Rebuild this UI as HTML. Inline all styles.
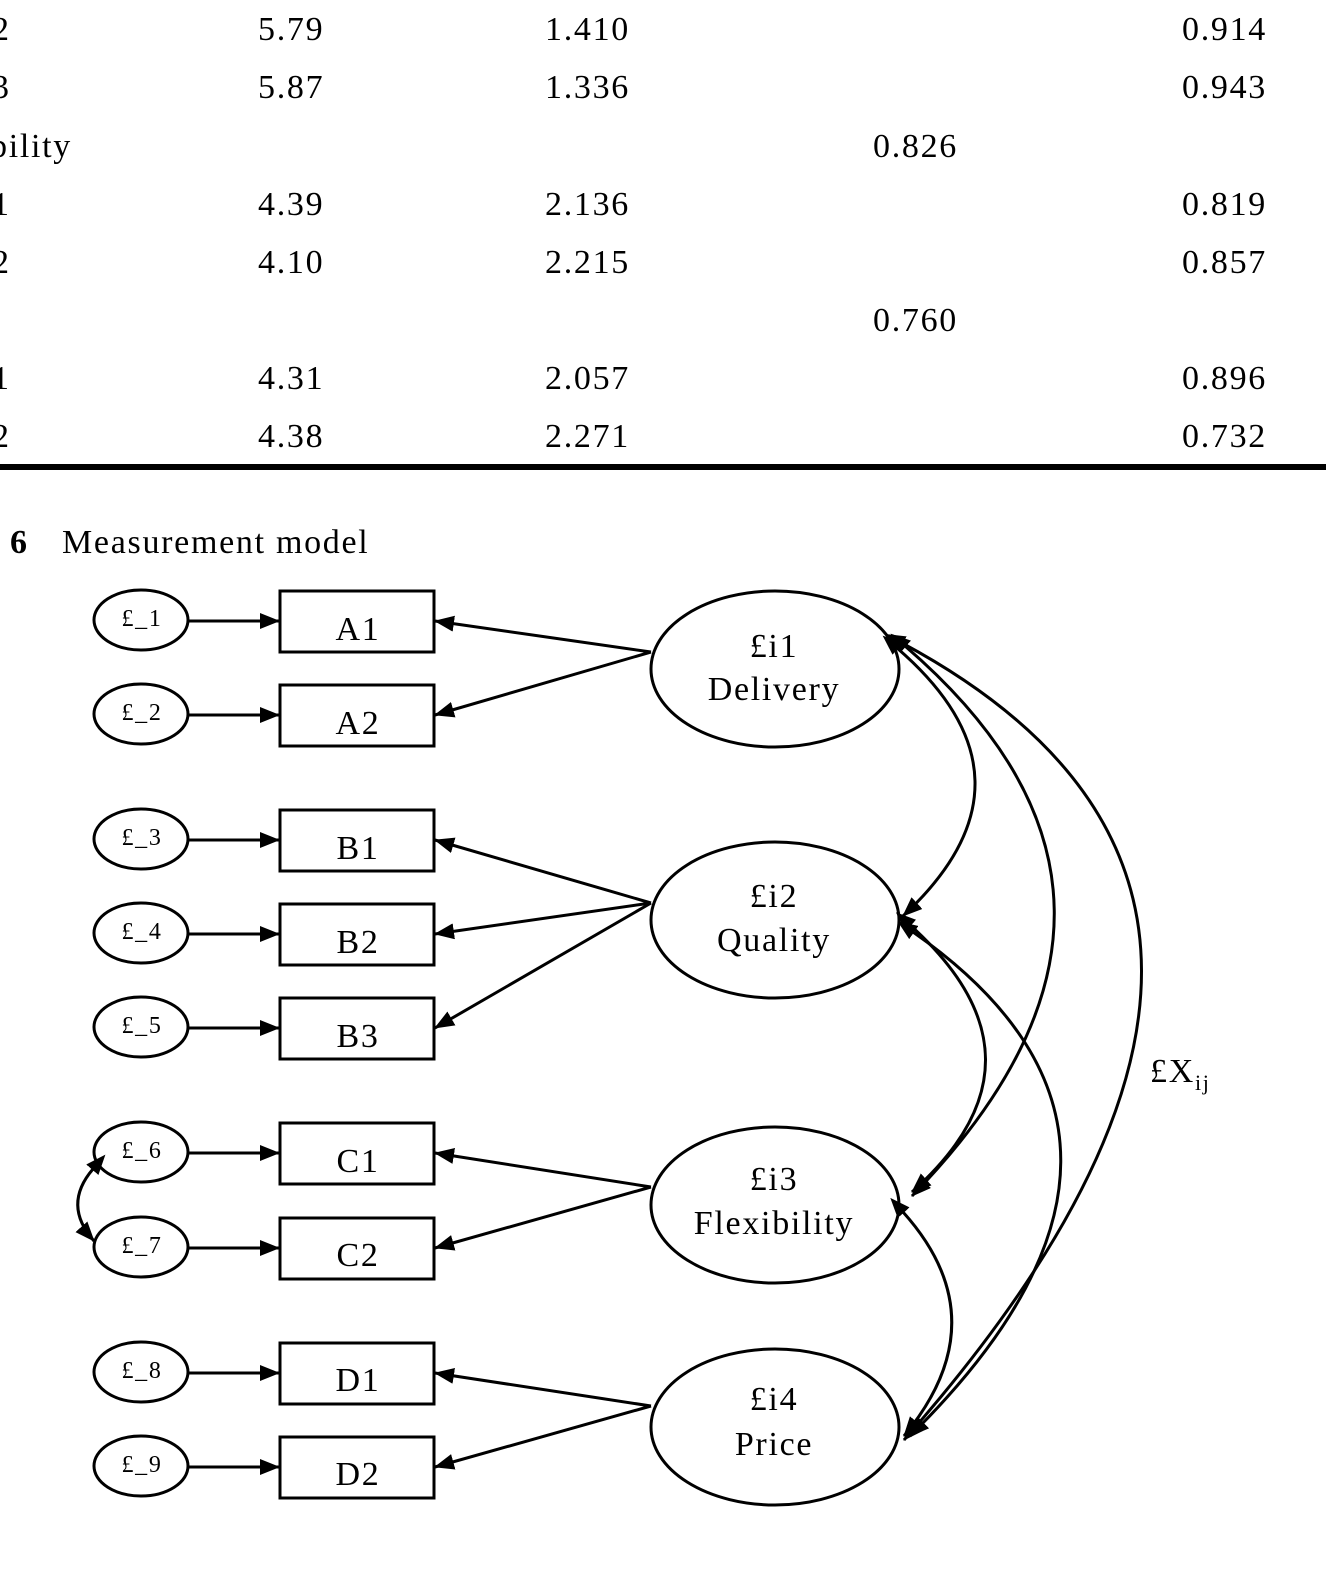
<!DOCTYPE html>
<html><head><meta charset="utf-8"><style>
html,body{margin:0;padding:0;background:#fff;}
svg{display:block;}
text{font-family:"Liberation Serif",serif;fill:#000;letter-spacing:1.7px;}
</style></head><body>
<svg width="1331" height="1574" viewBox="0 0 1331 1574" xmlns="http://www.w3.org/2000/svg">
<defs>
<marker id="ah" viewBox="0 0 20 16" refX="19" refY="8" markerWidth="20" markerHeight="16" markerUnits="userSpaceOnUse" orient="auto">
<path d="M0,0 L20,8 L0,16 z" fill="#000"/></marker>
<marker id="ahs" viewBox="0 0 20 16" refX="1" refY="8" markerWidth="20" markerHeight="16" markerUnits="userSpaceOnUse" orient="auto-start-reverse">
<path d="M0,0 L20,8 L0,16 z" fill="#000"/></marker>
</defs>
<g font-size="34">
<text x="-8" y="40">2</text><text x="258" y="40">5.79</text><text x="545" y="40">1.410</text><text x="1182" y="40">0.914</text>
<text x="-8" y="98">3</text><text x="258" y="98">5.87</text><text x="545" y="98">1.336</text><text x="1182" y="98">0.943</text>
<text x="-10" y="157">bility</text><text x="873" y="157">0.826</text>
<text x="-8" y="215">1</text><text x="258" y="215">4.39</text><text x="545" y="215">2.136</text><text x="1182" y="215">0.819</text>
<text x="-8" y="273">2</text><text x="258" y="273">4.10</text><text x="545" y="273">2.215</text><text x="1182" y="273">0.857</text>
<text x="873" y="331">0.760</text>
<text x="-8" y="389">1</text><text x="258" y="389">4.31</text><text x="545" y="389">2.057</text><text x="1182" y="389">0.896</text>
<text x="-8" y="447">2</text><text x="258" y="447">4.38</text><text x="545" y="447">2.271</text><text x="1182" y="447">0.732</text>
</g>
<rect x="0" y="464" width="1326" height="6" fill="#000"/>
<text x="10" y="553" font-size="34" font-weight="bold">6</text>
<text x="62" y="553" font-size="34">Measurement model</text>

<g stroke="#000" stroke-width="3" fill="none">
<ellipse cx="141" cy="620" rx="47" ry="30"/>
<ellipse cx="141" cy="714" rx="47" ry="30"/>
<ellipse cx="141" cy="839" rx="47" ry="30"/>
<ellipse cx="141" cy="933" rx="47" ry="30"/>
<ellipse cx="141" cy="1027" rx="47" ry="30"/>
<ellipse cx="141" cy="1152" rx="47" ry="30"/>
<ellipse cx="141" cy="1247" rx="47" ry="30"/>
<ellipse cx="141" cy="1372" rx="47" ry="30"/>
<ellipse cx="141" cy="1466" rx="47" ry="30"/>
<rect x="280" y="591" width="154" height="61"/>
<rect x="280" y="685" width="154" height="61"/>
<rect x="280" y="810" width="154" height="61"/>
<rect x="280" y="904" width="154" height="61"/>
<rect x="280" y="998" width="154" height="61"/>
<rect x="280" y="1123" width="154" height="61"/>
<rect x="280" y="1218" width="154" height="61"/>
<rect x="280" y="1343" width="154" height="61"/>
<rect x="280" y="1437" width="154" height="61"/>
<ellipse cx="775" cy="669" rx="124" ry="78"/>
<ellipse cx="775" cy="920" rx="124" ry="78"/>
<ellipse cx="775" cy="1205" rx="124" ry="78"/>
<ellipse cx="775" cy="1427" rx="124" ry="78"/>
</g>
<g stroke="#000" stroke-width="3" fill="none" marker-end="url(#ah)">
<line x1="188" y1="621" x2="279" y2="621"/>
<line x1="188" y1="715" x2="279" y2="715"/>
<line x1="188" y1="840" x2="279" y2="840"/>
<line x1="188" y1="934" x2="279" y2="934"/>
<line x1="188" y1="1028" x2="279" y2="1028"/>
<line x1="188" y1="1153" x2="279" y2="1153"/>
<line x1="188" y1="1248" x2="279" y2="1248"/>
<line x1="188" y1="1373" x2="279" y2="1373"/>
<line x1="188" y1="1467" x2="279" y2="1467"/>
<line x1="651" y1="652" x2="435" y2="621"/>
<line x1="651" y1="652" x2="435" y2="715"/>
<line x1="651" y1="903" x2="435" y2="840"/>
<line x1="651" y1="903" x2="435" y2="934"/>
<line x1="651" y1="903" x2="435" y2="1028"/>
<line x1="651" y1="1187" x2="435" y2="1153"/>
<line x1="651" y1="1187" x2="435" y2="1248"/>
<line x1="651" y1="1406" x2="435" y2="1373"/>
<line x1="651" y1="1406" x2="435" y2="1467"/>
</g>
<g stroke="#000" stroke-width="3" fill="none" marker-end="url(#ah)" marker-start="url(#ahs)">
<path d="M897,648 Q1050,780 903,916"/>
<path d="M905,646 Q1200,900 912,1196"/>
<path d="M902,643 Q1380,900 904,1440"/>
<path d="M910,925 Q1060,1060 912,1192"/>
<path d="M913,932 Q1210,1140 910,1436"/>
<path d="M903,1212 Q1000,1320 904,1436"/>
<path d="M93,1169 Q62,1205 94,1241"/>
</g>
<g font-size="24" text-anchor="middle">
<text x="142" y="626">£_1</text><text x="142" y="720">£_2</text><text x="142" y="845">£_3</text>
<text x="142" y="939">£_4</text><text x="142" y="1033">£_5</text><text x="142" y="1158">£_6</text>
<text x="142" y="1253">£_7</text><text x="142" y="1378">£_8</text><text x="142" y="1472">£_9</text>
</g>
<g font-size="34" text-anchor="middle">
<text x="358" y="640">A1</text><text x="358" y="734">A2</text><text x="358" y="859">B1</text>
<text x="358" y="953">B2</text><text x="358" y="1047">B3</text><text x="358" y="1172">C1</text>
<text x="358" y="1266">C2</text><text x="358" y="1391">D1</text><text x="358" y="1485">D2</text>
<text x="774" y="657">£i1</text><text x="774" y="700">Delivery</text>
<text x="774" y="907">£i2</text><text x="774" y="951">Quality</text>
<text x="774" y="1190">£i3</text><text x="774" y="1234">Flexibility</text>
<text x="774" y="1410">£i4</text><text x="774" y="1455">Price</text>
</g>
<text x="1150" y="1082" font-size="34">£X<tspan font-size="22" dy="8">ij</tspan></text>
</svg>
</body></html>
